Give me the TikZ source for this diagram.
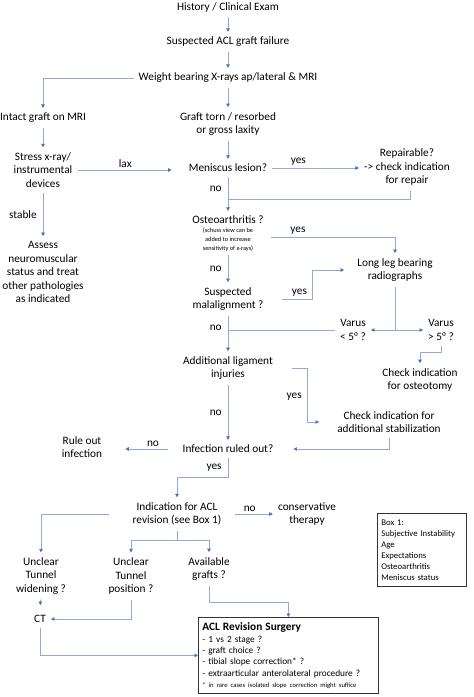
\documentclass[tikz,border=0pt]{standalone}
\usepackage{fontspec}
\setmainfont{Carlito}
\usepackage{tikz}
\usetikzlibrary{positioning,arrows.meta}
\definecolor{flowline}{RGB}{143,170,220}
\definecolor{flowtip}{RGB}{68,114,196}
\tikzset{
  stepnode/.style={align=center, font=\fontsize{11.3}{13.5}\selectfont, inner sep=5pt},
  note/.style={align=center, font=\fontsize{6.3}{9}\selectfont, inner sep=3pt},
  lbl/.style={font=\fontsize{11.3}{13}\selectfont, inner sep=2pt},
  fwd/.style={-{Triangle[length=3.5pt, width=3.5pt, color=flowtip]}, draw=flowline, line width=0.7pt},
  link/.style={draw=flowline, line width=0.7pt},
  infobox/.style={draw=black!80, line width=0.7pt, align=left, anchor=north west},
}

\begin{document}
\begin{tikzpicture}[x=1pt, y=-1pt]
\useasboundingbox (0,0) rectangle (474,697);
%Nodes
\node[stepnode] (hist) at (228,7) {History / Clinical Exam};
\node[stepnode] (susp) at (228,42) {Suspected ACL graft failure};
\node[stepnode] (wbx) at (228,78) {Weight bearing X-rays ap/lateral \& MRI};
\node[stepnode] (intact) at (43,118) {Intact graft on MRI};
\node[stepnode] (torn) at (228,124) {Graft torn / resorbed\\or gross laxity};
\node[stepnode] (stress) at (43,170) {Stress x-ray/\\instrumental\\devices};
\node[stepnode] (assess) at (43,272) {Assess\\neuromuscular\\status and treat\\other pathologies\\as indicated};
\node[stepnode] (mlesion) at (228,168) {Meniscus lesion?};
\node[stepnode] (repair) at (407,167) {Repairable?\\-> check indication\\for repair};
\node[stepnode] (osteo) at (228,220) {Osteoarthritis ?};
\node[note] (osteonote) at (228,240) {(schuss view can be\\added to increase\\sensitivity of x-rays)};
\node[stepnode] (longleg) at (395,270) {Long leg bearing\\radiographs};
\node[stepnode] (malal) at (228,299) {Suspected\\malalignment ?};
\node[stepnode] (varlo) at (353,330) {Varus\\< 5° ?};
\node[stepnode] (varhi) at (441,330) {Varus\\> 5° ?};
\node[stepnode] (addlig) at (228,368) {Additional ligament\\injuries};
\node[stepnode] (osteot) at (420,380) {Check indication\\for osteotomy};
\node[stepnode] (stab) at (389,422) {Check indication for\\additional stabilization};
\node[stepnode] (infect) at (228,449) {Infection ruled out?};
\node[stepnode] (ruleout) at (82,447) {Rule out\\infection};
\node[stepnode] (indic) at (177,514) {Indication for ACL\\revision (see Box 1)};
\node[stepnode] (conserv) at (307,514) {conservative\\therapy};
\node[stepnode] (widen) at (41,576) {Unclear\\Tunnel\\widening ?};
\node[stepnode] (tpos) at (131,576) {Unclear\\Tunnel\\position ?};
\node[stepnode] (grafts) at (209,569) {Available\\grafts ?};
\node[stepnode] (ct) at (40,619) {CT};
\node[infobox, font=\fontsize{8.7}{11}\selectfont, inner sep=4pt, text width=81pt, minimum height=73pt] (box1) at (377,513) {Box 1:\\Subjective Instability\\Age\\Expectations\\Osteoarthritis\\Meniscus status};
\node[infobox, font=\fontsize{9.3}{11.2}\selectfont, inner sep=4pt, text width=172pt, minimum height=76pt] (surgery) at (198,617) {{\fontsize{11.3}{12}\selectfont\bfseries ACL Revision Surgery}\\[1pt]- 1 vs 2 stage ?\\- graft choice ?\\- tibial slope correction* ?\\- extraarticular anterolateral procedure ?\\{\fontsize{6.6}{9}\selectfont * in rare cases isolated slope correction might suffice}};

\coordinate (menjoin) at (228,199);
\coordinate (vsplit) at (longleg.south |- varlo.east);
\coordinate (isplit) at ([yshift=-10pt]indic.south);

%Lines
\draw[fwd] (hist) -- (susp);
\draw[fwd] (susp) -- (wbx);
\draw[fwd] (wbx) -- (torn);
\draw[fwd] (wbx.west) -| (intact);
\draw[fwd] (intact) -- (stress);
\draw[fwd] (stress) -- (assess) node[lbl, midway, left=4pt] {stable};
\draw[fwd] (torn) -- (mlesion);
\draw[fwd, shorten >=12pt] (stress.east) -- (stress.east -| mlesion.west) node[lbl, pos=0.45, above] {lax};
\draw[fwd] (mlesion.east) -- (mlesion.east -| repair.west) node[lbl, pos=0.3, above] {yes};
\draw[fwd] (mlesion) -- (osteo) node[lbl, pos=0.35, left=4pt] {no};
\draw[link] ([xshift=3pt]repair.south) |- (menjoin);
\draw[fwd, shorten <=15pt] ([yshift=3pt]osteonote.east) -| (longleg) node[lbl, pos=0.15, above] {yes};
\draw[fwd] (osteonote) -- (malal) node[lbl, midway, left=4pt] {no};
\draw[fwd, shorten <=13pt, shorten >=8pt] (malal.east) -- ++(44,0) node[lbl, pos=0.7, above] {yes} |- (longleg.west);
\draw[link] (longleg) -- (vsplit);
\draw[fwd] (vsplit) -- (varlo);
\draw[fwd] (vsplit) -- (varhi);
\draw[link] (varlo.west) -- (varlo.west -| malal.south);
\draw[fwd] (malal) -- (addlig) node[lbl, pos=0.35, left=4pt] {no};
\draw[fwd] (varhi.south) -- ++(0,7) -| (osteot);
\draw[fwd] (addlig) -- (infect) node[lbl, midway, left=4pt] {no};
\draw[fwd, shorten <=14pt, shorten >=13pt] (addlig.east) -- ++(29,0) |- (stab.west) node[lbl, pos=0.27, left=3pt] {yes};
\draw[fwd, shorten >=15pt] (stab.south) |- (infect.east);
\draw[fwd, shorten <=10pt, shorten >=18pt] (infect.west) -- (infect.west -| ruleout.east) node[lbl, pos=0.35, above] {no};
\draw[fwd] (infect.south) -- ++(0,19) node[lbl, midway, left=4pt] {yes} -| (indic);
\draw[fwd, shorten <=8pt] (indic) -- (conserv) node[lbl, midway, above] {no};
\draw[fwd, shorten <=18pt] (indic.west) -| (widen);
\draw[link] (indic) -- (isplit);
\draw[fwd] (isplit) -| (tpos);
\draw[fwd] (isplit) -| (grafts);
\draw[fwd, shorten >=5pt] (widen) -- (ct);
\draw[fwd] (tpos) |- (ct);
\draw[fwd] (grafts.south) -- ++(0,16) -| (surgery.north);
\draw[fwd] (ct) |- (surgery.west);
\end{tikzpicture}
\end{document}
